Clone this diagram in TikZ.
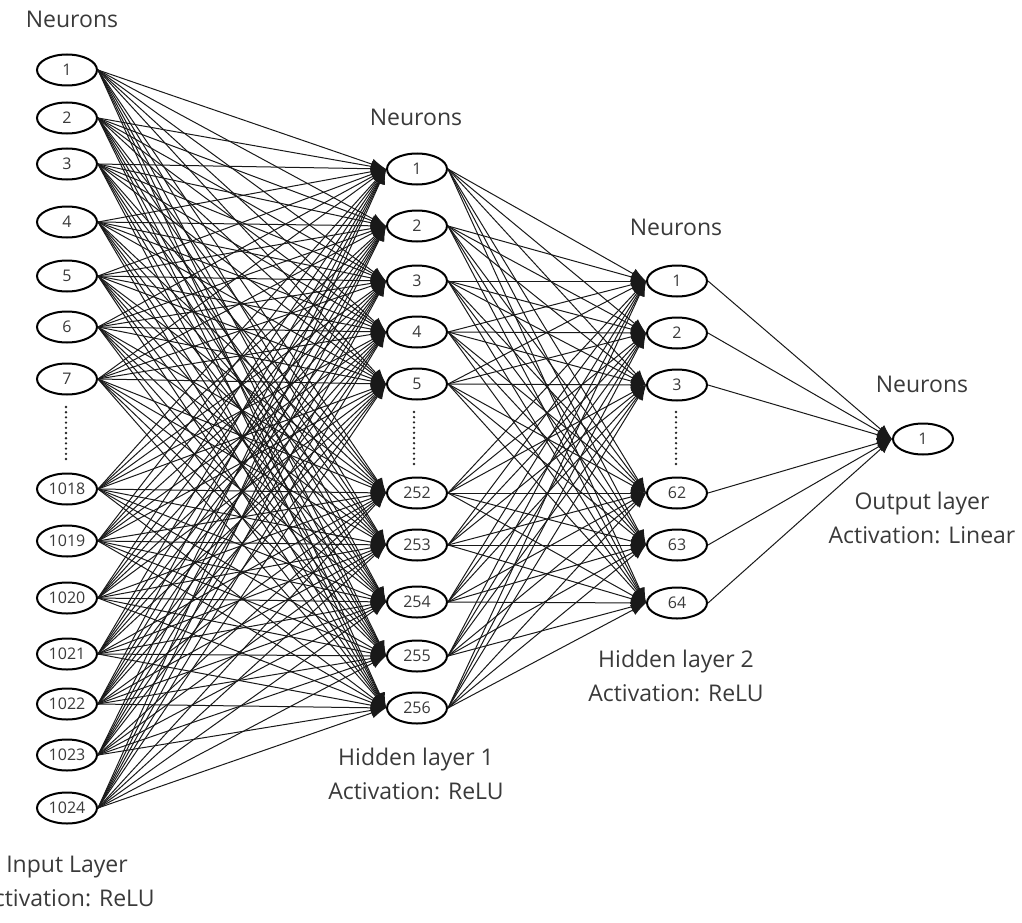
\documentclass[tikz,border=0pt]{standalone}
\usepackage{fontspec}
\setmainfont{Open Sans}
\usetikzlibrary{shapes.geometric,arrows.meta}
\definecolor{txt}{HTML}{3A3A3A}
\tikzset{
  neuron/.style={ellipse,draw=black,line width=2pt,fill=white,minimum width=60pt,minimum height=31pt,inner sep=0pt,text=txt,font=\fontsize{16}{16}\selectfont},
  edge/.style={line width=1pt,draw=black!90,-{Latex[length=15pt,width=11pt]}},
  title/.style={text=txt,font=\fontsize{23}{34}\selectfont,align=center,inner sep=0pt},
  vdots/.style={line width=2.6pt,dash pattern=on 0pt off 5.2pt,line cap=round,draw=black!85}
}
\begin{document}
\begin{tikzpicture}[x=1pt,y=-1pt]
\useasboundingbox (0,0) rectangle (1022,923);
% input layer
\foreach \lab/\y [count=\i] in {1/70,2/118,3/164,4/222,5/276,6/327,7/379,1018/489,1019/541,1020/598,1021/654,1022/704,1023/755,1024/808}
  \node[neuron] (i\i) at (67,\y) {\lab};
% hidden layer 1
\foreach \lab/\y [count=\i] in {1/169,2/226,3/281,4/332,5/384,252/493,253/545,254/602,255/656,256/708}
  \node[neuron] (h\i) at (417,\y) {\lab};
% hidden layer 2
\foreach \lab/\y [count=\i] in {1/281,2/333,3/385,62/493,63/545,64/603}
  \node[neuron] (g\i) at (677,\y) {\lab};
% output
\node[neuron] (o1) at (923,439) {1};
% edges
\foreach \a in {1,...,14} \foreach \b in {1,...,10}
  \draw[edge] (i\a.east) -- (h\b.west);
\foreach \a in {1,...,10} \foreach \b in {1,...,6}
  \draw[edge] (h\a.east) -- (g\b.west);
\foreach \a in {1,...,6}
  \draw[edge] (g\a.east) -- (o1.west);
% dots
\coordinate (d1a) at (66,407); \coordinate (d1b) at (66,460);
\coordinate (d2a) at (414,412); \coordinate (d2b) at (414,464);
\coordinate (d3a) at (676,412); \coordinate (d3b) at (676,464);
\draw[vdots] (d1a) -- (d1b);
\draw[vdots] (d2a) -- (d2b);
\draw[vdots] (d3a) -- (d3b);
% titles
\node[title] (t1) at (72,19) {Neurons};
\node[title] (t2) at (416,117) {Neurons};
\node[title] (t3) at (676,227) {Neurons};
\node[title] (t4) at (922,384) {Neurons};
\node[title] (l1) at (67,881) {Input Layer\\Activation: ReLU};
\node[title] (l2) at (416,774) {Hidden layer 1\\Activation: ReLU};
\node[title] (l3) at (676,676) {Hidden layer 2\\Activation: ReLU};
\node[title] (l4) at (922,518) {Output layer\\Activation: Linear};
\end{tikzpicture}
\end{document}
